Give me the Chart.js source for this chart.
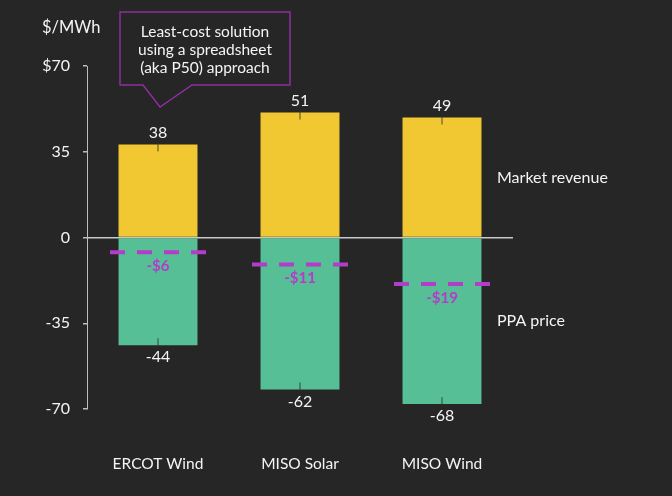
<!DOCTYPE html>
<html>
<head>
<meta charset="utf-8">
<script src="https://cdn.jsdelivr.net/npm/chart.js@4.4.1/dist/chart.umd.min.js"></script>
<style>
  html, body { margin: 0; padding: 0; background: #262626; }
  #wrap { width: 672px; height: 496px; position: relative; }
</style>
</head>
<body>
<div id="wrap"><canvas id="ppaChart"></canvas></div>
<script>
const categories = ['ERCOT Wind', 'MISO Solar', 'MISO Wind'];
const marketRevenue = [38, 51, 49];
const ppaPrice = [-44, -62, -68];
const netValue = [-6, -11, -19];
const yTicks = [70, 35, 0, -35, -70];
const yTickLabels = ['$70', '35', '0', '-35', '-70'];

const FONT = 'Lato, "Noto Sans", sans-serif';
const MAGENTA = '#b43ccb';

// value labels, dashed net lines, side labels and the callout
const overlayPlugin = {
  id: 'overlay',
  afterDatasetsDraw(chart) {
    const { ctx, scales: { x, y } } = chart;
    ctx.save();
    ctx.textAlign = 'center';
    ctx.textBaseline = 'middle';

    // bar value labels + little stubs
    [0, 1].forEach(di => {
      const meta = chart.getDatasetMeta(di);
      meta.data.forEach((bar, i) => {
        const v = chart.data.datasets[di].data[i];
        const dir = v >= 0 ? -1 : 1;
        ctx.strokeStyle = 'rgba(50,50,50,0.85)';
        ctx.lineWidth = 1;
        ctx.beginPath();
        ctx.moveTo(bar.x, bar.y + dir * 2);
        ctx.lineTo(bar.x, bar.y - dir * 7);
        ctx.stroke();
        ctx.fillStyle = '#f4f4f4';
        ctx.font = '16px ' + FONT;
        ctx.fillText(String(v), bar.x, bar.y + dir * 12);
      });
    });

    // dashed net value lines
    netValue.forEach((v, i) => {
      const cx = x.getPixelForValue(i);
      const py = y.getPixelForValue(v);
      ctx.strokeStyle = MAGENTA;
      ctx.lineWidth = 4;
      ctx.setLineDash([15, 12]);
      ctx.beginPath();
      ctx.moveTo(cx - 48, py);
      ctx.lineTo(cx + 48, py);
      ctx.stroke();
      ctx.setLineDash([]);
      ctx.fillStyle = MAGENTA;
      ctx.font = 'bold 15px ' + FONT;
      ctx.fillText('-$' + Math.abs(v), cx, py + 14);
    });

    // side labels at the middle of the last bars
    const last = categories.length - 1;
    ctx.textAlign = 'left';
    ctx.fillStyle = '#f4f4f4';
    ctx.font = '16px ' + FONT;
    ctx.fillText('Market revenue', 497, y.getPixelForValue(marketRevenue[last] / 2));
    ctx.fillText('PPA price', 497, y.getPixelForValue(ppaPrice[last] / 2));

    // unit title
    ctx.font = '16.5px ' + FONT;
    ctx.fillText('$/MWh', 42, 28);

    // callout
    const tipX = x.getPixelForValue(0) + 2;
    ctx.strokeStyle = '#8e2fa0';
    ctx.lineWidth = 1.5;
    ctx.fillStyle = '#262626';
    ctx.beginPath();
    ctx.moveTo(120, 12);
    ctx.lineTo(290, 12);
    ctx.lineTo(290, 85);
    ctx.lineTo(192, 85);
    ctx.lineTo(tipX, 107);
    ctx.lineTo(143, 85);
    ctx.lineTo(120, 85);
    ctx.closePath();
    ctx.fill();
    ctx.stroke();
    ctx.fillStyle = '#f4f4f4';
    ctx.textAlign = 'center';
    ctx.font = '15.5px ' + FONT;
    ctx.fillText('Least-cost solution', 205, 32);
    ctx.fillText('using a spreadsheet', 205, 50);
    ctx.fillText('(aka P50) approach', 205, 68);
    ctx.restore();
  }
};

new Chart(document.getElementById('ppaChart'), {
  type: 'bar',
  data: {
    labels: categories,
    datasets: [
      { label: 'Market revenue', data: marketRevenue, backgroundColor: '#f2c832' },
      { label: 'PPA price', data: ppaPrice, backgroundColor: '#56bf96' }
    ]
  },
  options: {
    animation: false,
    responsive: true,
    maintainAspectRatio: false,
    barPercentage: 0.556,
    categoryPercentage: 1,
    layout: { padding: { top: 66, right: 159, bottom: 0, left: 0 } },
    plugins: { legend: { display: false }, tooltip: { enabled: false } },
    elements: { bar: { borderWidth: 0 } },
    scales: {
      x: {
        stacked: true,
        border: { display: false },
        grid: { display: false, drawTicks: false },
        ticks: { color: '#f4f4f4', font: { family: FONT, size: 15.5 }, padding: 46 },
        afterFit: s => { s.height = 87; }
      },
      y: {
        stacked: true,
        min: -70,
        max: 70,
        afterBuildTicks: s => { s.ticks = yTicks.map(v => ({ value: v })); },
        border: { display: true, color: '#bdbdbd', width: 1 },
        grid: {
          drawOnChartArea: true,
          color: c => (c.tick && c.tick.value === 0 ? '#c8c8c8' : 'transparent'),
          lineWidth: 1.5,
          tickColor: '#bdbdbd',
          tickLength: 4
        },
        ticks: {
          color: '#f4f4f4',
          font: { family: FONT, size: 16 },
          padding: 13,
          callback: v => yTickLabels[yTicks.indexOf(v)]
        },
        afterFit: s => { s.width = 87; }
      }
    }
  },
  plugins: [overlayPlugin]
});
</script>
</body>
</html>
